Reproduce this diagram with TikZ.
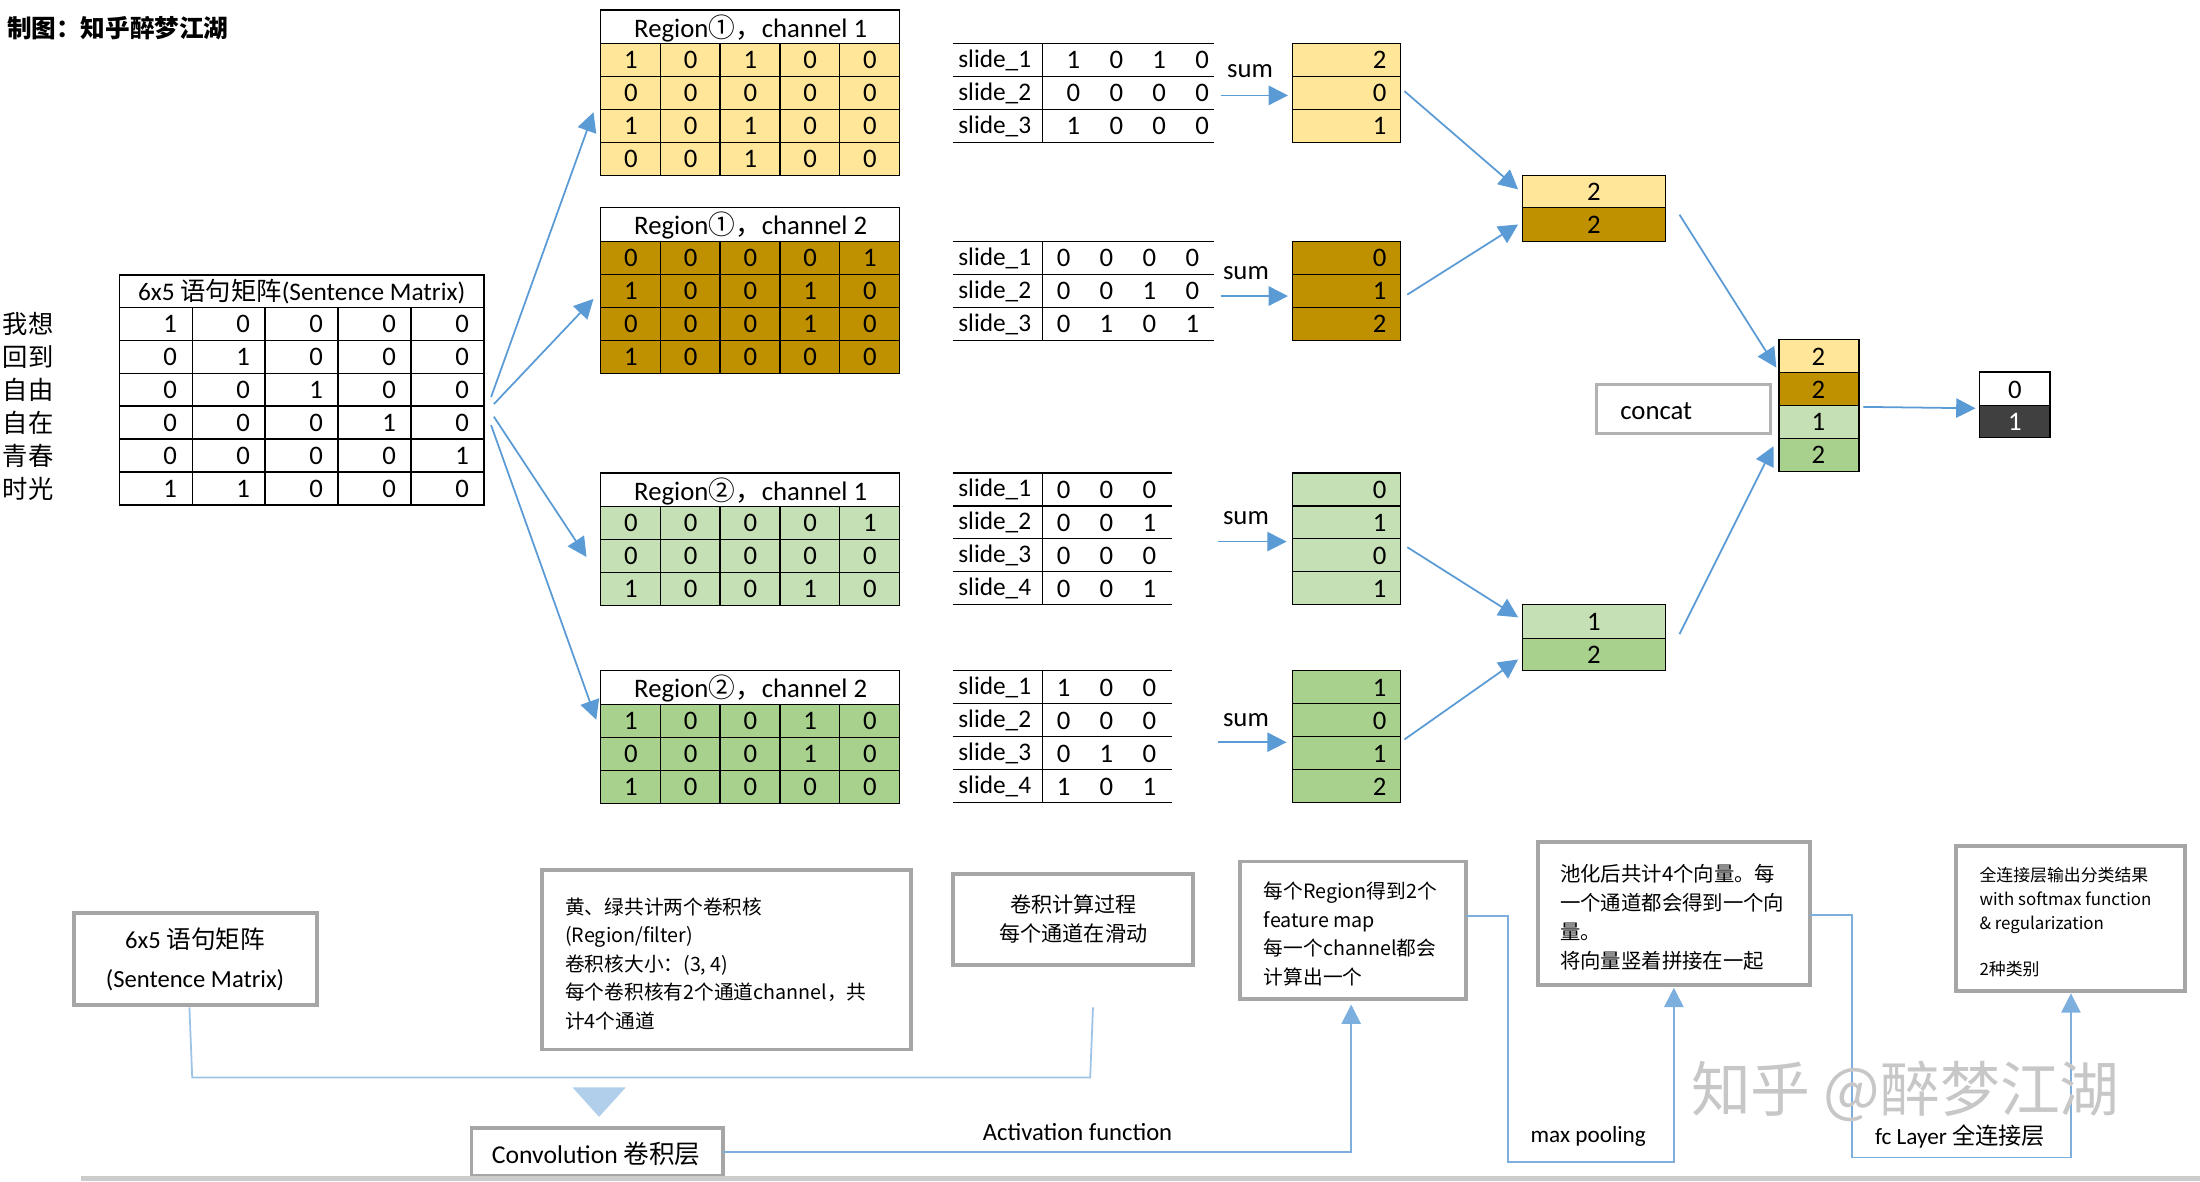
\documentclass[tikz,border=0pt]{standalone}
\usepackage{fontspec}
\setmainfont{Carlito}
\newfontfamily\cjk{Noto Sans CJK SC}
\usetikzlibrary{arrows.meta}
\definecolor{ylw}{HTML}{FFE699}
\definecolor{gld}{HTML}{BF9000}
\definecolor{lgr}{HTML}{C5E0B4}
\definecolor{dgr}{HTML}{A9D18E}
\definecolor{blk}{HTML}{404040}
\definecolor{arc}{HTML}{5B9BD5}
\definecolor{brc}{HTML}{9DC3E6}
\tikzset{
  ar/.style={draw=arc, line width=0.5pt, -{Triangle[width=5.5pt,length=5.5pt]}},
  note/.style={draw=black!35, line width=1.1pt, fill=white},
  tf/.style={font=\fontsize{7.6}{9}\selectfont},
  nf/.style={font=\fontsize{6.2}{9}\selectfont, align=left},
}
% region matrix: #1 title top y, #2 nrows, #3 fill, #4 title, #5 data
\newcommand\regmat[5]{%
  \fill[#3] (428,#1+24) rectangle (641,#1+24+23.5*#2);
  \draw (428,#1) rectangle (641,#1+24+23.5*#2);
  \foreach \k in {0,...,#2}{\draw (428,#1+24+23.5*\k) -- (641,#1+24+23.5*\k);}
  \foreach \k in {1,...,4}{\draw (428+42.6*\k,#1+24) -- (428+42.6*\k,#1+24+23.5*#2);}
  \node[tf] at (535,#1+13) {#4};
  \foreach \row [count=\r] in {#5}{\foreach \v [count=\c] in \row{
    \node[tf] at (428+42.6*\c-21,#1+24+23.5*\r-11.5) {\v};}}
}
% slide table: #1 top y, #2 nrows, #3 right x, #4 first x, #5 data
\newcommand\slidetab[5]{%
  \foreach \k in {0,...,#2}{\draw (679,#1+23.5*\k) -- (#3,#1+23.5*\k);}
  \draw (743,#1) -- (743,#1+23.5*#2);
  \foreach \row [count=\r] in {#5}{
    \node[tf,anchor=west,inner sep=1pt] at (680,#1+23.5*\r-11.5) {\fontsize{7.2}{9}\selectfont slide\_\r};
    \foreach \v [count=\c] in \row{
      \node[tf] at (#4+30.6*\c-30.6,#1+23.5*\r-11.5) {\v};}}
}
% sum column: #1 top, #2 fill, #3 values
\newcommand\sumcol[3]{%
  \foreach \v [count=\r] in {#3}{
    \draw[fill=#2] (921,#1+23.5*\r-23.5) rectangle (998,#1+23.5*\r);
    \node[tf,anchor=east] at (997,#1+23.5*\r-11.5) {\v};}
}
\begin{document}
\begin{tikzpicture}[x=0.01403cm,y=-0.01403cm,font=\fontsize{7.6}{9}\selectfont]
\useasboundingbox (0,0) rectangle (1568,842);
\node[anchor=west,font=\cjk\bfseries\fontsize{7}{9}\selectfont,inner sep=1pt] (title) at (2,20) {制图：知乎醉梦江湖};

% sentence matrix
\draw (85,196) rectangle (345,360);
\node[font=\fontsize{7.2}{9}\selectfont] (smh) at (215,208) {6x5 {\cjk 语句矩阵}(Sentence Matrix)};
\foreach \k in {0,...,6}{\draw (85,219+23.5*\k) -- (345,219+23.5*\k);}
\foreach \k in {1,...,4}{\draw (85+52*\k,219) -- (85+52*\k,360);}
\foreach \row [count=\r] in {{1,0,0,0,0},{0,1,0,0,0},{0,0,1,0,0},{0,0,0,1,0},{0,0,0,0,1},{1,1,0,0,0}}{
  \foreach \v [count=\c] in \row{\node[tf,anchor=east] at (85+52*\c-2,219+23.5*\r-11.5) {\v};}}
\foreach \w [count=\r] in {我想,回到,自由,自在,青春,时光}{
  \node[font=\cjk\fontsize{7.2}{9}\selectfont] at (20,231+23.5*\r-23.5) {\w};}
\coordinate (sm1) at (350,283); \coordinate (sm2) at (352,288);
\coordinate (sm3) at (352,297); \coordinate (sm4) at (350,303);

% region matrices
\regmat{7}{4}{ylw}{Region{\cjk ①，}channel 1}{{1,0,1,0,0},{0,0,0,0,0},{1,0,1,0,0},{0,0,1,0,0}}
\regmat{148}{4}{gld}{Region{\cjk ①，}channel 2}{{0,0,0,0,1},{1,0,0,1,0},{0,0,0,1,0},{1,0,0,0,0}}
\regmat{337}{3}{lgr}{Region{\cjk ②，}channel 1}{{0,0,0,0,1},{0,0,0,0,0},{1,0,0,1,0}}
\regmat{478}{3}{dgr}{Region{\cjk ②，}channel 2}{{1,0,0,1,0},{0,0,0,1,0},{1,0,0,0,0}}
\coordinate (r1) at (423,80); \coordinate (r2) at (423,213);
\coordinate (r3) at (418,397); \coordinate (r4) at (425,513);
\draw[ar] (sm1) -- (r1); \draw[ar] (sm2) -- (r2);
\draw[ar] (sm3) -- (r3); \draw[ar] (sm4) -- (r4);

% slide tables
\slidetab{31}{3}{865}{765}{{1,0,1,0},{0,0,0,0},{1,0,0,0}}
\slidetab{172}{3}{865}{758}{{0,0,0,0},{0,0,1,0},{0,1,0,1}}
\slidetab{337}{4}{835}{758}{{0,0,0},{0,0,1},{0,0,0},{0,0,1}}
\slidetab{478}{4}{835}{758}{{1,0,0},{0,0,0},{0,1,0},{1,0,1}}

% sums
\node[tf] (s1) at (891,51) {sum}; \node[tf] (s2) at (888,195) {sum};
\node[tf] (s3) at (888,369) {sum}; \node[tf] (s4) at (888,513) {sum};
\coordinate (a1s) at (870,68); \coordinate (a1e) at (918,68);
\coordinate (a2s) at (870,211); \coordinate (a2e) at (918,211);
\coordinate (a3s) at (868,386); \coordinate (a3e) at (917,386);
\coordinate (a4s) at (868,529); \coordinate (a4e) at (917,529);
\draw[ar] (a1s) -- (a1e); \draw[ar] (a2s) -- (a2e);
\draw[ar] (a3s) -- (a3e); \draw[ar] (a4s) -- (a4e);
\sumcol{31}{ylw}{2,0,1}
\sumcol{172}{gld}{0,1,2}
\sumcol{337}{lgr}{0,1,0,1}
\sumcol{478}{dgr}{1,0,1,2}

% pooled
\draw[fill=ylw] (1085,125) rectangle (1187,148); \node at (1136,137) {2};
\draw[fill=gld] (1085,148) rectangle (1187,172); \node at (1136,160) {2};
\draw[fill=lgr] (1085,431) rectangle (1187,455); \node at (1136,443) {1};
\draw[fill=dgr] (1085,455) rectangle (1187,478); \node at (1136,467) {2};
\coordinate (p1s) at (1001,65); \coordinate (p1e) at (1082,135);
\coordinate (p2s) at (1003,210); \coordinate (p2e) at (1082,160);
\coordinate (p3s) at (1003,390); \coordinate (p3e) at (1082,440);
\coordinate (p4s) at (1001,527); \coordinate (p4e) at (1082,470);
\draw[ar] (p1s) -- (p1e); \draw[ar] (p2s) -- (p2e);
\draw[ar] (p3s) -- (p3e); \draw[ar] (p4s) -- (p4e);

% concat
\foreach \c/\v [count=\r] in {ylw/2,gld/2,lgr/1,dgr/2}{
  \draw[fill=\c] (1268,242+23.5*\r-23.5) rectangle (1325,242+23.5*\r);
  \node at (1296,242+23.5*\r-11.5) {\v};}
\draw[draw=black!30,line width=0.9pt] (1138,274) rectangle (1262,309);
\node[anchor=west] (concat) at (1146,293) {concat};
\coordinate (c1s) at (1197,153); \coordinate (c1e) at (1266,262);
\coordinate (c2s) at (1197,452); \coordinate (c2e) at (1264,318);
\draw[ar] (c1s) -- (c1e); \draw[ar] (c2s) -- (c2e);

% output
\draw[fill=white] (1411,265) rectangle (1461,289); \node at (1436,278) {0};
\draw[fill=blk] (1411,289) rectangle (1461,312); \node[text=white] at (1436,301) {1};
\coordinate (o1s) at (1328,290); \coordinate (o1e) at (1408,291);
\draw[ar] (o1s) -- (o1e);

% bottom notes
\draw[note] (53,651) rectangle (226,716);
\node[align=center,font=\fontsize{7}{11}\selectfont] (b1) at (139,684) {6x5 {\cjk 语句矩阵}\\(Sentence Matrix)};
\draw[note] (386,620) rectangle (649,748);
\node[nf,anchor=north west,font=\cjk\fontsize{5.6}{8.1}\selectfont] (b2) at (394,631) {黄、绿共计两个卷积核\\(Region/filter)\\卷积核大小：(3, 4)\\每个卷积核有2个通道channel，共\\计4个通道};
\draw[note] (679,623) rectangle (850,688);
\node[align=center,font=\cjk\fontsize{6}{8.3}\selectfont] (b3) at (765,655) {卷积计算过程\\每个通道在滑动};
\draw[note] (884,614) rectangle (1045,712);
\node[nf,anchor=north west,font=\cjk\fontsize{5.6}{8.1}\selectfont] (b4) at (892,620) {每个Region得到2个\\feature map\\每一个channel都会\\计算出一个};
\draw[note] (1096,600) rectangle (1290,702);
\node[nf,anchor=north west,font=\cjk\fontsize{5.8}{8.3}\selectfont] (b5) at (1103,607) {池化后共计4个向量。每\\一个通道都会得到一个向\\量。\\将向量竖着拼接在一起};
\draw[note] (1394,603) rectangle (1557,706);
\node[nf,anchor=north west,font=\cjk\fontsize{4.8}{6.9}\selectfont] (b6) at (1402,609) {全连接层输出分类结果\\with softmax function\\ \& regularization\\[6pt]2种类别};

% bracket and triangle
\coordinate (k1) at (135,718); \coordinate (k2) at (779,718);
\draw[brc,line width=0.5pt] (k1) -- (137,768) -- (777,768) -- (k2);
\fill[fill=brc!80] (408,775) -- (446,775) -- (427,796) -- cycle;
\draw[note] (336,804) rectangle (515,838);
\node[font=\fontsize{7.3}{9}\selectfont] (conv) at (425,822) {Convolution {\cjk 卷积层}};
\coordinate (act) at (963,716);
\draw[ar,draw=arc!80] (515,821) -- (963,821) -- (act);
\node[font=\fontsize{7}{9}\selectfont] (actl) at (768,807) {Activation function};
\coordinate (mp) at (1193,704);
\draw[ar,draw=arc!80] (1045,653) -- (1075,653) -- (1075,828) -- (1193,828) -- (mp);
\node[font=\fontsize{6.6}{9}\selectfont] (mpl) at (1132,810) {max pooling};
\coordinate (fc) at (1476,708);
\draw[ar,draw=arc!80] (1290,652) -- (1320,652) -- (1320,825) -- (1476,825) -- (fc);
\node[font=\fontsize{6.6}{9}\selectfont] (fcl) at (1397,810) {fc Layer {\cjk 全连接层}};
\node[text=black!22,font=\cjk\fontsize{17}{20}\selectfont] (wm) at (1358,778) {知乎 @醉梦江湖};
\draw[black!20,line width=1.2pt] (58,840) -- (1568,840);
\end{tikzpicture}
\end{document}
